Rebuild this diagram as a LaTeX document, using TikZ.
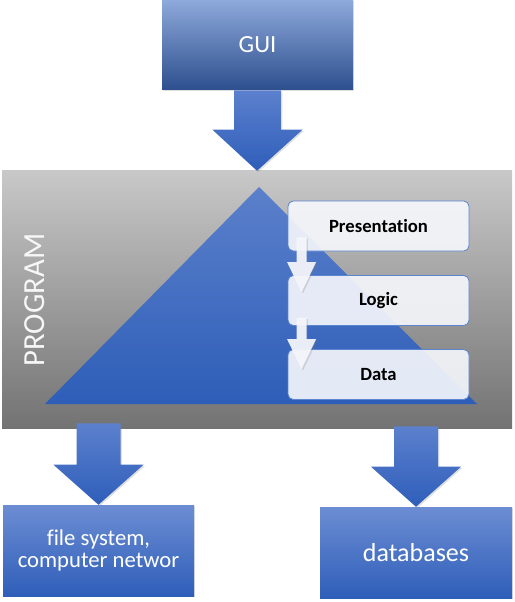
\documentclass[tikz,border=0pt]{standalone}
\usepackage{fontspec}
\setmainfont{Carlito}[Ligatures=CommonOff]
\usetikzlibrary{calc,shadows}
\definecolor{guitop}{HTML}{8EA9DB}
\definecolor{guimid}{HTML}{4A77C9}
\definecolor{guibot}{HTML}{2D4F8E}
\definecolor{boxtop}{HTML}{6C8DD3}
\definecolor{boxbot}{HTML}{2F5EB9}
\definecolor{arrtop}{HTML}{5C80CD}
\definecolor{arrbot}{HTML}{2E5EBA}
\definecolor{tritop}{HTML}{5B80CB}
\definecolor{tribot}{HTML}{2E5EB8}
\definecolor{graytop}{HTML}{C8C8C8}
\definecolor{graybot}{HTML}{737373}
\definecolor{boxline}{HTML}{5B85CF}
\definecolor{layerfill}{HTML}{F7F8FC}
% block arrow: start, tip, shaft half width, head half width, head length, style
\newcommand\blockarrow[6]{%
\path[#6] let \p1=#1, \p2=#2 in
    (\x1-#3,\y1) -- (\x1+#3,\y1) -- (\x1+#3,\y2+#5) -- (\x1+#4,\y2+#5) --
    (\x2,\y2) -- (\x1-#4,\y2+#5) -- (\x1-#3,\y2+#5) -- cycle;}
\tikzset{
  softshadow/.style={drop shadow={opacity=.25,shadow xshift=1pt,shadow yshift=-1pt}},
  bluebox/.style={inner sep=0pt,text=white,align=center,shade,top color=boxtop,
    bottom color=boxbot,softshadow},
  layerbox/.style={rounded corners=4pt,draw=boxline,line width=.6pt,fill=layerfill,
    fill opacity=.9,text opacity=1,minimum width=135.75pt,minimum height=37.5pt,
    font=\bfseries\fontsize{14}{14}\selectfont},
  bigarrow/.style={shade,top color=arrtop,bottom color=arrbot,softshadow},
  thinarrow/.style={fill=layerfill,fill opacity=.92,softshadow}
}
\begin{document}
\begin{tikzpicture}[x=0.75pt,y=-0.75pt]
\useasboundingbox (0,0) rectangle (514,602);
\node[bluebox,top color=guitop,middle color=guimid,bottom color=guibot,
  minimum width=143.25pt,minimum height=67.5pt,font=\fontsize{18.5}{18.5}\selectfont]
  (gui) at (257.5,45) {GUI};
\node[inner sep=0pt,shade,top color=graytop,bottom color=graybot,
  minimum width=382.5pt,minimum height=192.75pt] (prog) at (257,299.5) {};
\blockarrow{(gui.south)}{(prog.north)}{17.6pt}{33.75pt}{30.75pt}{bigarrow}
%\draw (prog.north west) -- (prog.south east);
\shade[top color=tritop,bottom color=tribot] (45,404) -- (259,187) -- (477,404) -- cycle;
\node[rotate=90,text=white!94!gray,font=\fontsize{23}{23}\selectfont] (progname)
  at (35,300) {PROGRAM};
\node[layerbox] (pres) at (378.5,226) {Presentation};
\node[layerbox] (logic) at (378.5,300.5) {Logic};
\node[layerbox] (data) at (378.5,374.5) {Data};
\blockarrow{($(pres.south west)+(14,-14)$)}{($(logic.north west)+(14,17)$)}{3.75pt}{10.9pt}{22.5pt}{thinarrow}
\blockarrow{($(logic.south west)+(14,-8)$)}{($(data.north west)+(14,20)$)}{3.75pt}{10.9pt}{22.5pt}{thinarrow}
\node[bluebox,minimum width=143.25pt,minimum height=68.25pt,
  font=\fontsize{17}{16.5}\selectfont] (files) at (98.5,550.5)
  {file system,\\computer networ};
\node[bluebox,minimum width=144pt,minimum height=68.25pt,
  font=\fontsize{19.5}{19.5}\selectfont] (db) at (416,552.5) {databases};
\blockarrow{($(prog.south -| files.north)+(0,-5)$)}{(files.north)}{16.5pt}{33.75pt}{30pt}{bigarrow}
\blockarrow{($(prog.south -| db.north)+(0,-2)$)}{(db.north)}{16.5pt}{33.75pt}{30pt}{bigarrow}
\end{tikzpicture}
\end{document}
